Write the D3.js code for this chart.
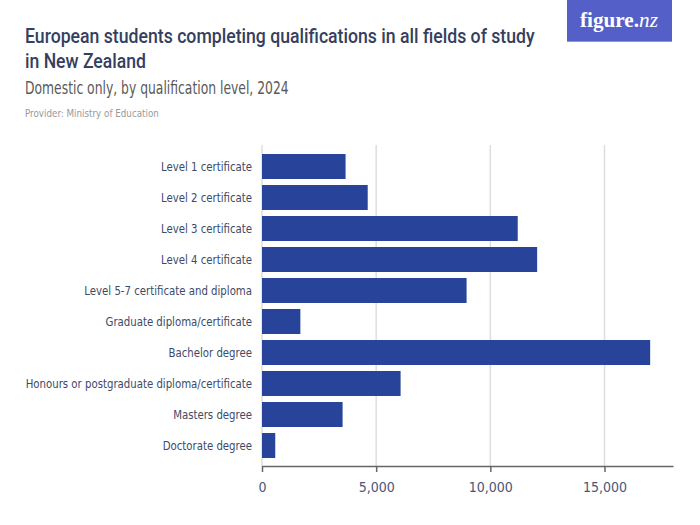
<!DOCTYPE html>
<html>
<head>
<meta charset="utf-8">
<script src="https://cdn.jsdelivr.net/npm/d3@7"></script>
<style>
  body { margin: 0; background: #fff; }
  svg { display: block; }
  text { font-family: "DejaVu Sans Condensed", "Liberation Sans Narrow", "Roboto", sans-serif; }
</style>
</head>
<body>
<div id="chart"></div>
<script>
const categories = [
    "Level 1 certificate",
    "Level 2 certificate",
    "Level 3 certificate",
    "Level 4 certificate",
    "Level 5-7 certificate and diploma",
    "Graduate diploma/certificate",
    "Bachelor degree",
    "Honours or postgraduate diploma/certificate",
    "Masters degree",
    "Doctorate degree"
];
const students = [3660, 4630, 11200, 12050, 8960, 1680, 17000, 6070, 3530, 580];
const xTicks = [0, 5000, 10000, 15000];

const width = 700, height = 525;
const margin = {top: 151, right: 27, bottom: 64, left: 262};

const svg = d3.select("#chart").append("svg")
    .attr("width", width)
    .attr("height", height);

// squeeze a text horizontally into a target width (the original font is condensed)
function squeeze(g, w) {
    const t = g.select("text").node();
    const len = t.getComputedTextLength();
    const tr = g.attr("transform");
    g.attr("transform", tr + ` scale(${w / len},1)`);
}

function headerText(xp, yp, size, weight, color, str, w, family) {
    const g = svg.append("g").attr("transform", `translate(${xp},${yp})`);
    g.append("text")
        .attr("font-size", size)
        .attr("font-weight", weight)
        .attr("fill", color)
        .style("font-family", family)
        .text(str);
    squeeze(g, w);
    return g;
}

// header
headerText(25, 43, 21, 500, "#34405e", "European students completing qualifications in all fields of study", 510, "Roboto, sans-serif");
headerText(25, 68, 21, 500, "#34405e", "in New Zealand", 121, "Roboto, sans-serif");
headerText(25, 94, 17, "normal", "#5a5a5a", "Domestic only, by qualification level, 2024", 264, null);
headerText(25, 117, 11, "normal", "#999", "Provider: Ministry of Education", 134, null);

// logo
svg.append("rect").attr("x", 567).attr("y", 0).attr("width", 105).attr("height", 42)
    .attr("fill", "#5460c8");
svg.append("line").attr("x1", 567).attr("x2", 672).attr("y1", 41.5).attr("y2", 41.5)
    .attr("stroke", "#8a92d8").attr("stroke-width", 1);
const logo = svg.append("g").attr("transform", "translate(580,27)");
const logoText = logo.append("text")
    .attr("font-size", 21)
    .attr("font-weight", "bold")
    .attr("fill", "#fff")
    .style("font-family", "'Liberation Serif', 'DejaVu Serif', serif");
logoText.append("tspan").text("figure.");
logoText.append("tspan").attr("font-style", "italic").attr("font-weight", "normal").text("nz");
squeeze(logo, 78);

const x = d3.scaleLinear()
    .domain([0, 18000])
    .range([margin.left, width - margin.right]);

const y = d3.scaleBand()
    .domain(categories)
    .range([margin.top, 461])
    .paddingInner(6 / 31)
    .paddingOuter(3 / 31);

// gridlines
svg.append("g")
    .selectAll("line")
    .data(xTicks)
    .enter()
    .append("line")
    .attr("x1", d => x(d)).attr("x2", d => x(d))
    .attr("y1", 145).attr("y2", 466)
    .attr("stroke", "#dedede")
    .attr("stroke-width", 1.5);

// bars
svg.append("g")
    .selectAll("rect")
    .data(students)
    .enter()
    .append("rect")
    .attr("x", x(0))
    .attr("y", (d, i) => y(categories[i]))
    .attr("width", d => x(d) - x(0))
    .attr("height", y.bandwidth())
    .attr("fill", "#28449a");

// category labels
svg.append("g")
    .selectAll("g")
    .data(categories)
    .enter()
    .append("g")
    .attr("transform", d => `translate(252,${y(d) + y.bandwidth() / 2})`)
    .each(function (d) {
        const g = d3.select(this);
        g.append("text")
            .attr("dy", "0.35em")
            .attr("text-anchor", "end")
            .attr("font-size", 13)
            .attr("fill", "#3d4a68")
            .text(d);
        g.attr("transform", g.attr("transform") + " scale(0.87,1)");
    });

// x axis
const xAxis = svg.append("g")
    .attr("transform", "translate(0,466)")
    .call(d3.axisBottom(x).tickValues(xTicks).tickFormat(d3.format(",")).tickSize(6).tickSizeOuter(0));
xAxis.select(".domain").attr("stroke", "#666").attr("stroke-width", 1.5);
xAxis.selectAll(".tick line").attr("stroke", "#666").attr("stroke-width", 1.5);
xAxis.selectAll(".tick text")
    .attr("font-size", 14)
    .attr("fill", "#4a5878")
    .attr("dy", "1.2em")
    .style("font-family", "\"DejaVu Sans Condensed\", sans-serif");
</script>
</body>
</html>
